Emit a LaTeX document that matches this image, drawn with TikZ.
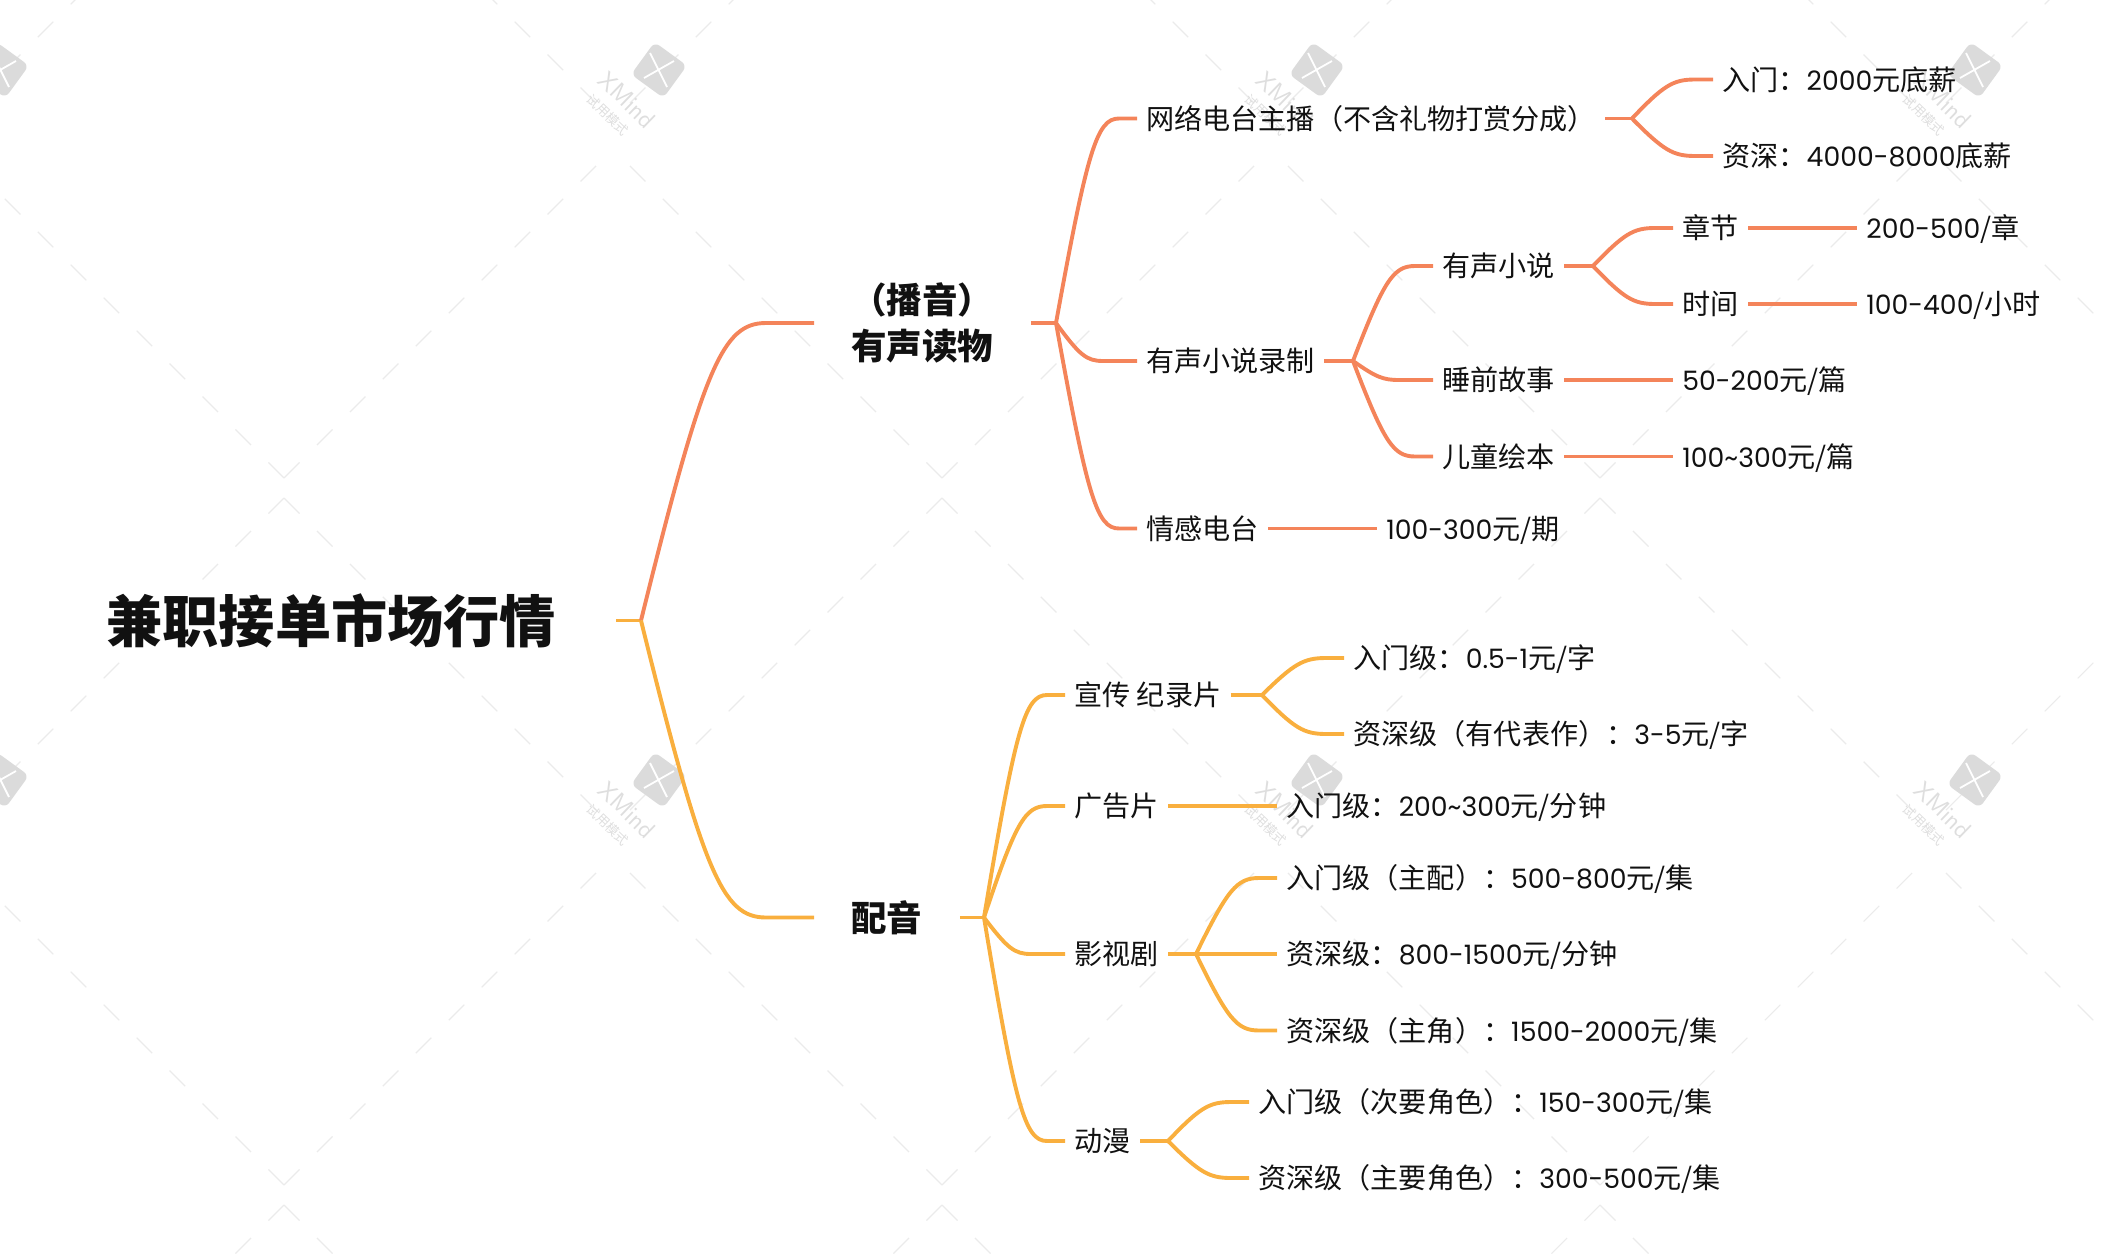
\documentclass[tikz,border=0pt]{standalone}
\usepackage{fontspec}
\setmainfont{Noto Sans CJK SC}
\newfontfamily\numfont[Scale=0.95]{Poppins}
\newfontfamily\rootfont{Noto Sans CJK SC Black}
\newcommand{\dg}[1]{{\numfont #1}}
\usetikzlibrary{calc}
\definecolor{salmon}{HTML}{F4845A}
\definecolor{amber}{HTML}{F9AF3E}
\definecolor{inkblack}{HTML}{111111}
\tikzset{
  wire/.style={line width=1.95pt,line cap=butt},
  branch/.style={to path={let \p1=(\tikztostart),\p2=(\tikztotarget),\n1={\x2-#1-\x1},\n2={\y2-\y1} in
    .. controls ({\x1+.5*\n1},{\y1+.85*\n2}) and ({\x2-#1-.35*\n1},\y2) .. ({\x2-#1},\y2) -- (\tikztotarget)}},
  branch/.default=9pt,
  topic/.style={anchor=west,inner xsep=4.5pt,inner ysep=0pt,text=inkblack,text height=10.7pt,text depth=0pt,font=\fontsize{14.05}{16}\selectfont},
  mainbox/.style={anchor=west,inner xsep=18.5pt,inner ysep=0pt,text=inkblack,align=center,font=\fontsize{17.75}{23}\selectfont\bfseries},
  rootbox/.style={anchor=west,inner xsep=30pt,inner ysep=0pt,text=inkblack,text height=21.6pt,text depth=0pt,font=\fontsize{28.1}{32}\rootfont},
  mesh/.style={line width=.55pt,draw=black!8,dash pattern=on 11pt off 12.3pt},
  markgray/.style={text=black!13,inner sep=0pt}
}
\begin{document}
\begin{tikzpicture}[x=0.5pt,y=-0.5pt]
\useasboundingbox (0,0) rectangle (2104,1258);
\begin{scope}
  \clip (0,0) rectangle (2104,1258);
  \foreach \cx in {-374,284,942,1600,2258}
    \foreach \cy in {-219,488,1195} {
      \draw[mesh] (\cx,\cy-10) -- ++(-320,-320);
      \draw[mesh] (\cx,\cy-10) -- ++(320,-320);
      \draw[mesh] (\cx,\cy+10) -- ++(-320,320);
      \draw[mesh] (\cx,\cy+10) -- ++(320,320);
    }
  \foreach \mx in {1,659,1317,1975}
    \foreach \my in {70,780} {
      \fill[black!14,rounded corners=3pt,rotate around={-36:(\mx,\my)}] (\mx-20,\my-20) rectangle (\mx+20,\my+20);
      \draw[white,line width=.9pt] (\mx-9,\my-17) -- (\mx+8,\my+17) (\mx+15,\my-9) -- (\mx-15,\my+8);
      \node[markgray,rotate=-44,font=\sffamily\fontsize{12.5}{13}\selectfont] at (\mx-32,\my+30) {XMind};
      \node[markgray,rotate=-44,font=\fontsize{6.5}{7}\selectfont] at (\mx-51,\my+45) {试用模式};
    }
\end{scope}

\node[rootbox] (root) at (46,620.5) {兼职接单市场行情};
\node[mainbox] (bobo) at (814,323) {（播音）\\有声读物};
\node[mainbox] (peiyin) at (814,917.5) {配音};

\node[topic] (wangluo) at (1137,118.5) {网络电台主播（不含礼物打赏分成）};
\node[topic] (wlrumen) at (1713,79.5) {入门：\dg{2000}元底薪};
\node[topic] (wlzishen) at (1713,156) {资深：\dg{4000-8000}底薪};
\node[topic] (luzhi) at (1137,361) {有声小说录制};
\node[topic] (xiaoshuo) at (1433,266) {有声小说};
\node[topic] (zhangjie) at (1673,228) {章节};
\node[topic] (zjprice) at (1857,228) {\dg{200-500}/章};
\node[topic] (shijian) at (1673,304) {时间};
\node[topic] (sjprice) at (1857,304) {\dg{100-400}/小时};
\node[topic] (shuiqian) at (1433,380) {睡前故事};
\node[topic] (sqprice) at (1673,380) {\dg{50-200}元/篇};
\node[topic] (ertong) at (1433,456.5) {儿童绘本};
\node[topic] (etprice) at (1673,456.5) {\dg{100\textasciitilde300}元/篇};
\node[topic] (qinggan) at (1137,528.5) {情感电台};
\node[topic] (qgprice) at (1377,528.5) {\dg{100-300}元/期};

\node[topic] (xuanchuan) at (1065,695) {宣传 纪录片};
\node[topic] (xcrumen) at (1344,658) {入门级：\dg{0.5-1}元/字};
\node[topic] (xczishen) at (1344,734) {资深级（有代表作）：\dg{3-5}元/字};
\node[topic] (guanggao) at (1065,806) {广告片};
\node[topic] (ggrumen) at (1277,806) {入门级：\dg{200\textasciitilde300}元/分钟};
\node[topic] (yingshi) at (1065,954) {影视剧};
\node[topic] (ysrumen) at (1277,878) {入门级（主配）：\dg{500-800}元/集};
\node[topic] (yszishen) at (1277,954) {资深级：\dg{800-1500}元/分钟};
\node[topic] (yszhujiao) at (1277,1030.5) {资深级（主角）：\dg{1500-2000}元/集};
\node[topic] (dongman) at (1065,1141) {动漫};
\node[topic] (dmrumen) at (1249,1102) {入门级（次要角色）：\dg{150-300}元/集};
\node[topic] (dmzishen) at (1249,1178) {资深级（主要角色）：\dg{300-500}元/集};

\coordinate (jroot) at (641,620.5);
\coordinate (jbobo) at (1056,323);
\coordinate (jpei) at (984,917.5);
\coordinate (jwang) at (1632,118.5);
\coordinate (jlu) at (1353,361);
\coordinate (jxiao) at (1593,266);
\coordinate (jxuan) at (1262,695);
\coordinate (jying) at (1196,954);
\coordinate (jdong) at (1168,1141);

\draw[wire,amber] (root.east) -- (jroot);
\draw[wire,salmon,branch=24pt] (jroot) to (bobo.west);
\draw[wire,amber,branch=24pt] (jroot) to (peiyin.west);

\draw[wire,salmon] (bobo.east) -- (jbobo);
\draw[wire,salmon,branch] (jbobo) to (wangluo.west);
\draw[wire,salmon,branch=17pt] (jbobo) to (luzhi.west);
\draw[wire,salmon,branch] (jbobo) to (qinggan.west);
\draw[wire,salmon] (wangluo.east) -- (jwang);
\draw[wire,salmon,branch] (jwang) to (wlrumen.west);
\draw[wire,salmon,branch] (jwang) to (wlzishen.west);
\draw[wire,salmon] (luzhi.east) -- (jlu);
\draw[wire,salmon,branch] (jlu) to (xiaoshuo.west);
\draw[wire,salmon,branch=17pt] (jlu) to (shuiqian.west);
\draw[wire,salmon,branch] (jlu) to (ertong.west);
\draw[wire,salmon] (xiaoshuo.east) -- (jxiao);
\draw[wire,salmon,branch] (jxiao) to (zhangjie.west);
\draw[wire,salmon,branch] (jxiao) to (shijian.west);
\draw[wire,salmon] (zhangjie.east) -- (zjprice.west);
\draw[wire,salmon] (shijian.east) -- (sjprice.west);
\draw[wire,salmon] (shuiqian.east) -- (sqprice.west);
\draw[wire,salmon] (ertong.east) -- (etprice.west);
\draw[wire,salmon] (qinggan.east) -- (qgprice.west);

\draw[wire,amber] (peiyin.east) -- (jpei);
\draw[wire,amber,branch] (jpei) to (xuanchuan.west);
\draw[wire,amber,branch] (jpei) to (guanggao.west);
\draw[wire,amber,branch=17pt] (jpei) to (yingshi.west);
\draw[wire,amber,branch] (jpei) to (dongman.west);
\draw[wire,amber] (xuanchuan.east) -- (jxuan);
\draw[wire,amber,branch] (jxuan) to (xcrumen.west);
\draw[wire,amber,branch] (jxuan) to (xczishen.west);
\draw[wire,amber] (guanggao.east) -- (ggrumen.west);
\draw[wire,amber] (yingshi.east) -- (yszishen.west);
\draw[wire,amber,branch] (jying) to (ysrumen.west);
\draw[wire,amber,branch] (jying) to (yszhujiao.west);
\draw[wire,amber] (dongman.east) -- (jdong);
\draw[wire,amber,branch] (jdong) to (dmrumen.west);
\draw[wire,amber,branch] (jdong) to (dmzishen.west);
\end{tikzpicture}
\end{document}
